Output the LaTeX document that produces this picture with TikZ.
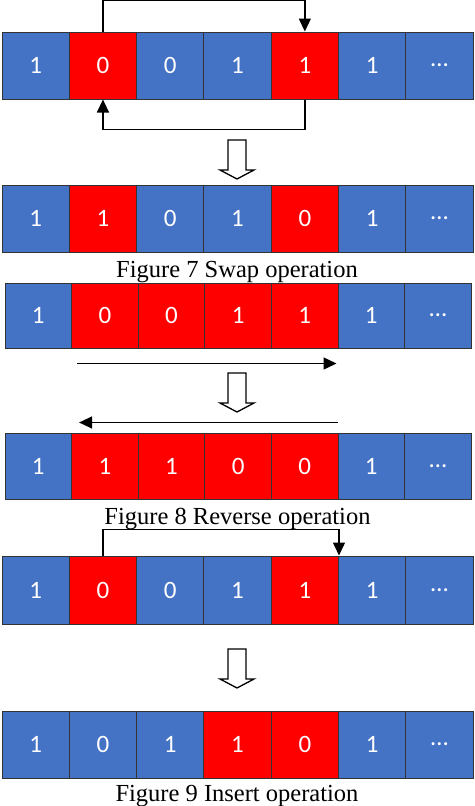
\documentclass[tikz,border=0pt]{standalone}
\usepackage{fontspec}
\setmainfont{Liberation Serif}
\newfontfamily\cellfont{Carlito}
\usetikzlibrary{arrows.meta, calc}

\definecolor{cellblue}{RGB}{68,114,196}
\definecolor{cellred}{RGB}{255,0,0}

\tikzset{
  cell/.style={draw=black!80, line width=1pt, text=white, inner sep=0pt,
    minimum width=67.3pt, minimum height=67pt, font=\cellfont\fontsize{25}{28}\selectfont},
  link/.style={line width=1.4pt, -{Triangle[width=12pt,length=13pt]}},
  caption/.style={anchor=base, font=\fontsize{24.5}{28}\selectfont},
  pics/hollowdown/.style={code={
    \draw[line width=1.3pt, fill=white] (-9,0) -- (-9,30) -- (-17,30) -- (0,39)
      -- (17,30) -- (9,30) -- (9,0) -- cycle;
  }}
}

\begin{document}
\begin{tikzpicture}[x=1pt, y=-1pt]
  \useasboundingbox (0,0) rectangle (474,806);

  %swap: before and after
  \foreach \v/\c [count=\i] in {1/cellblue,0/cellred,0/cellblue,1/cellblue,1/cellred,1/cellblue,\ldots/cellblue}
    \node[cell, fill=\c] (a\i) at ({2+67.3*(\i-0.5)},65.5) {\v};
  \draw[link] (a2.north) -- ++(0,-31) -| (a5.north);
  \draw[link] (a5.south) -- ++(0,30) -| (a2.south);
  \pic (down7) at (237,140) {hollowdown};
  \foreach \v/\c [count=\i] in {1/cellblue,1/cellred,0/cellblue,1/cellblue,0/cellred,1/cellblue,\ldots/cellblue}
    \node[cell, fill=\c] (b\i) at ({2+67.3*(\i-0.5)},218.5) {\v};
  \node[caption] (cap7) at (237,277) {Figure 7 Swap operation};

  %reverse: the red block is turned round
  \foreach \v/\c [count=\i] in {1/cellblue,0/cellred,0/cellred,1/cellred,1/cellred,1/cellblue,\ldots/cellblue}
    \node[cell, fill=\c, minimum width=66.6pt, minimum height=65pt] (c\i) at ({5+66.6*(\i-0.5)},315.5) {\v};
  \draw[link] ($(c2.south west)+(6,15)$) -- ($(c5.south east)+(-2,15)$);
  \pic (down8) at (237,373) {hollowdown};
  \foreach \v/\c [count=\i] in {1/cellblue,1/cellred,1/cellred,0/cellred,0/cellred,1/cellblue,\ldots/cellblue}
    \node[cell, fill=\c, minimum width=66.6pt, minimum height=66pt] (d\i) at ({5+66.6*(\i-0.5)},466) {\v};
  \draw[link] ($(d5.north east)+(-1,-10)$) -- ($(d2.north west)+(8,-10)$);
  \node[caption] (cap8) at (237.5,524) {Figure 8 Reverse operation};

  %insert: the first red cell goes behind the second
  \foreach \v/\c [count=\i] in {1/cellblue,0/cellred,0/cellblue,1/cellblue,1/cellred,1/cellblue,\ldots/cellblue}
    \node[cell, fill=\c, minimum height=68pt] (e\i) at ({2+67.3*(\i-0.5)},590) {\v};
  \draw[link] (e2.north) -- ++(0,-26) -| (e5.north east);
  \pic (down9) at (237,649) {hollowdown};
  \foreach \v/\c [count=\i] in {1/cellblue,0/cellblue,1/cellblue,1/cellred,0/cellred,1/cellblue,\ldots/cellblue}
    \node[cell, fill=\c] (f\i) at ({2+67.3*(\i-0.5)},744.5) {\v};
  \node[caption] (cap9) at (237,801.5) {Figure 9 Insert operation};
\end{tikzpicture}
\end{document}
